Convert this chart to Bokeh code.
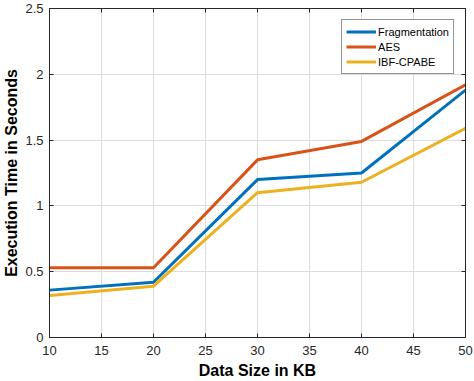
from bokeh.plotting import figure
from bokeh.models import LinearAxis, Legend, LegendItem, FixedTicker, Range1d
from bokeh.embed import file_html
from bokeh.resources import INLINE

data_size = [10, 20, 30, 40, 50]
fragmentation = [0.36, 0.42, 1.20, 1.25, 1.88]
aes = [0.53, 0.53, 1.35, 1.49, 1.92]
ibf_cpabe = [0.32, 0.39, 1.10, 1.18, 1.59]
x_ticks = [10, 15, 20, 25, 30, 35, 40, 45, 50]
y_ticks = [0, 0.5, 1, 1.5, 2, 2.5]
y_labels = {0: "0", 0.5: "0.5", 1: "1", 1.5: "1.5", 2: "2", 2.5: "2.5"}

FONT = "Liberation Sans"
TICK_COLOR = "#262626"

p = figure(width=474, height=381, output_backend="svg", toolbar_location=None,
           x_range=Range1d(10, 50), y_range=Range1d(0, 2.5),
           min_border_left=45, min_border_right=9, min_border_top=8, min_border_bottom=44)

p.outline_line_color = TICK_COLOR
p.outline_line_width = 1
p.background_fill_color = "white"
p.border_fill_color = "white"

for g in (p.xgrid, p.ygrid):
    g.grid_line_color = "#dcdcdc"
    g.grid_line_width = 1
p.xgrid.ticker = FixedTicker(ticks=x_ticks)
p.ygrid.ticker = FixedTicker(ticks=y_ticks)

xa = p.xaxis[0]
ya = p.yaxis[0]
xa.ticker = FixedTicker(ticks=x_ticks)
ya.ticker = FixedTicker(ticks=y_ticks)
ya.major_label_overrides = y_labels
xa.axis_label = "Data Size in KB"
ya.axis_label = "Execution Time in Seconds"
for ax in (xa, ya):
    ax.axis_line_color = TICK_COLOR
    ax.major_tick_line_color = TICK_COLOR
    ax.major_tick_in = 4
    ax.major_tick_out = 0
    ax.minor_tick_line_color = None
    ax.major_label_text_font = FONT
    ax.major_label_text_font_size = "13px"
    ax.major_label_text_color = TICK_COLOR
    ax.axis_label_text_font = FONT
    ax.axis_label_text_font_size = "16px"
    ax.axis_label_text_font_style = "bold"
    ax.axis_label_text_color = "black"
xa.major_label_standoff = 8
xa.axis_label_standoff = 4
ya.major_label_standoff = 6
ya.axis_label_standoff = 2

# mirror ticks on top and right (MATLAB box style)
for loc in ("above", "right"):
    ticks = x_ticks if loc == "above" else y_ticks
    ax2 = LinearAxis(ticker=FixedTicker(ticks=ticks))
    ax2.major_label_overrides = {t: "" for t in ticks}
    ax2.axis_line_color = TICK_COLOR
    ax2.major_tick_line_color = TICK_COLOR
    ax2.major_tick_in = 4
    ax2.major_tick_out = 0
    ax2.minor_tick_line_color = None
    ax2.major_label_standoff = 0
    ax2.major_label_text_font_size = "1px"
    p.add_layout(ax2, loc)

r1 = p.line(data_size, fragmentation, line_color="#0072BD", line_width=3)
r2 = p.line(data_size, aes, line_color="#D95319", line_width=3)
r3 = p.line(data_size, ibf_cpabe, line_color="#EDB120", line_width=3)

legend = Legend(items=[LegendItem(label="Fragmentation", renderers=[r1]),
                       LegendItem(label="AES", renderers=[r2]),
                       LegendItem(label="IBF-CPABE", renderers=[r3])],
                location="top_right")
legend.label_text_font = FONT
legend.label_text_font_size = "11px"
legend.label_text_color = "black"
legend.glyph_width = 30
legend.glyph_height = 15
legend.label_height = 15
legend.label_standoff = 2
legend.spacing = 0
legend.padding = 4
legend.margin = 11
legend.border_line_color = TICK_COLOR
legend.border_line_width = 1
legend.background_fill_color = "white"
legend.background_fill_alpha = 1
p.add_layout(legend)

open("out.html", "w").write(file_html(p, INLINE))
